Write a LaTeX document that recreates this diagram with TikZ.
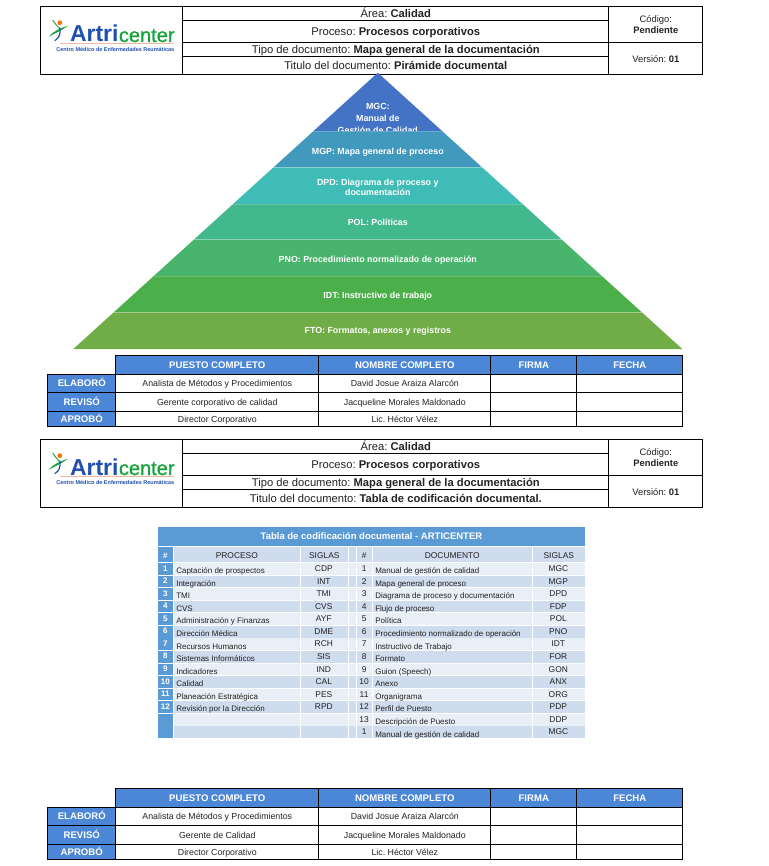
\documentclass[tikz,border=0pt]{standalone}
\usepackage{fontspec}
\setmainfont{Liberation Sans}
\newfontfamily\logofont[FakeBold=1]{Liberation Sans}
\usepackage{tikz}
\usetikzlibrary{positioning,calc}

\definecolor{azulcab}{HTML}{4C86D6}
\definecolor{azultab}{HTML}{5B9BD5}
\definecolor{filaclara}{HTML}{E9EFF7}
\definecolor{filaoscura}{HTML}{CFDCEE}
\definecolor{logoazul}{HTML}{1F4FB0}
\definecolor{logoverde}{HTML}{18A23C}
\definecolor{logosalmon}{HTML}{F0B8A0}
\definecolor{tinta}{HTML}{222222}

\tikzset{
	celda/.style={inner sep=0pt, outer sep=0pt, anchor=north west, text=tinta, text height=.9em, text depth=.2em},
	cab/.style={celda, draw=black, line width=.9pt, font=\fontsize{11.2}{12}\selectfont},
	firma/.style={celda, draw=black, line width=.8pt, font=\fontsize{8.8}{10}\selectfont},
	firmaazul/.style={firma, fill=azulcab, text=white, font=\fontsize{9.6}{12}\selectfont\bfseries},
	banda/.style={draw=white, draw opacity=.2, line width=.5pt},
	nivel/.style={text=white, inner sep=0pt, align=center, font=\fontsize{8.85}{12}\selectfont\bfseries},
	fila0/.style={celda, fill=filaoscura},
	fila1/.style={celda, fill=filaclara},
	titab/.style={celda, fill=azultab, text=white, font=\fontsize{9.5}{12}\selectfont\bfseries},
	numtab/.style={celda, fill=azultab, text=white, font=\fontsize{8}{10}\selectfont\bfseries},
	coltab/.style={celda, fill=filaoscura, font=\fontsize{8.4}{10}\selectfont},
	txtab/.style={inner sep=0pt, text=tinta, anchor=base west, font=\fontsize{8}{10}\selectfont},
	sigtab/.style={inner sep=0pt, text=tinta, anchor=base, font=\fontsize{8.4}{10}\selectfont},
}

% style, name, x1, y1, x2, y2, text
\newcommand{\celda}[7]{\node[#1, minimum width={(#5-#3)*1pt}, minimum height={(#6-#4)*1pt}] (#2) at (#3,#4) {#7};}

\begin{document}
\frenchspacing
\begin{tikzpicture}[x=1pt,y=-1pt]
	\useasboundingbox (.2,.3) rectangle (768.2,866.3);
	
	% the two page headers
	\foreach \t/\titulo/\tn in {0/Pirámide documental/a,433/Tabla de codificación documental./b}
	{
		\begin{scope}[yshift=-\t pt]
			\celda{cab}{logo\tn}{41}{7}{183}{75}{}
			\celda{cab}{area\tn}{183}{7}{609}{21}{Área: \textbf{Calidad}}
			\celda{cab}{proceso\tn}{183}{21}{609}{43}{Proceso: \textbf{Procesos corporativos}}
			\celda{cab}{tipo\tn}{183}{43}{609}{57}{Tipo de documento: \textbf{Mapa general de la documentación}}
			\celda{cab}{doc\tn}{183}{57}{609}{75}{Titulo del documento: \textbf{\titulo}}
			\celda{cab,font=\fontsize{9.4}{11}\selectfont,text height=,text depth=,align=center}{codigo\tn}{609}{7}{703}{43}{Código:\\\textbf{Pendiente}}
			\celda{cab,font=\fontsize{9.4}{11}\selectfont}{version\tn}{609}{43}{703}{75}{Versión: \textbf{01}}
			% logo
			\node[inner sep=0pt, anchor=base west, text=logoazul, font=\fontsize{23}{24}\selectfont\bfseries] (artri\tn) at (70,42.3) {Artri};
			\node[inner sep=0pt, anchor=base west, text=logoverde, font=\fontsize{20}{24}\logofont] (center\tn) at (artri\tn.base east) {center};
			\node[inner sep=0pt, text=logoazul, font=\fontsize{5.5}{6}\selectfont\bfseries] (centro\tn) at (115.5,50) {Centro Médico de Enfermedades Reumáticas};
			\draw[logosalmon, line width=1pt] (60,44) -- (174,44);
			\fill[orange!90!red] (60,23) circle (2.4);
			\fill[logoverde] (49,37) .. controls (54,31) and (60,29) .. (68,26) .. controls (62,31) and (56,33) .. cycle;
			\draw[logoverde, line width=.9pt] (53,20.5) .. controls (56,25) and (59,28) .. (61,30);
			\draw[logoazul, line width=1.2pt] (60,28) .. controls (61,33) and (60,38) .. (55,41);
		\end{scope}
	}
	
	% pyramid, top level first so that the next band cuts its text
	\def \yapex {73}
	\def \xapex {378}
	\def \pend {1.102}
	\fill[color={rgb,255:red,68;green,114;blue,196}] (\xapex,\yapex) -- ({\xapex+\pend*(132-\yapex)},132) -- ({\xapex-\pend*(132-\yapex)},132) -- cycle;
	\node[nivel] (mgc) at (\xapex,118.5) {MGC:\\Manual de\\Gestión de Calidad};
	\foreach \a/\b/\col in {131.5/167.7/4199BE,167.7/204.3/40BCB6,204.3/240/42B88E,240/276.5/48B46C,276.5/312.7/4CB04A,312.7/349.5/70AD47}
	{
		\definecolor{cband}{HTML}{\col}
		\fill[cband] ({\xapex-\pend*(\a-\yapex)},\a) -- ({\xapex+\pend*(\a-\yapex)},\a) -- ({\xapex+\pend*(\b-\yapex)},\b) -- ({\xapex-\pend*(\b-\yapex)},\b) -- cycle;
		\draw[banda] ({\xapex-\pend*(\a-\yapex)},\a) -- ({\xapex+\pend*(\a-\yapex)},\a);
	}
	\node[nivel] (mgp) at (\xapex,152.5) {MGP: Mapa general de proceso};
	\node[nivel] (dpd) at (\xapex,187.5) {DPD: Diagrama de proceso y\\[-1.8pt]documentación};
	\node[nivel] (pol) at (\xapex,223) {POL: Políticas};
	\node[nivel] (pno) at (\xapex,260) {PNO: Procedimiento normalizado de operación};
	\node[nivel] (idt) at (\xapex,297) {IDT: Instructivo de trabajo};
	\node[nivel] (fto) at (\xapex,332) {FTO: Formatos, anexos y registros};
	
	% signature tables
	\foreach \t/\rev/\tn in {0/Gerente corporativo de calidad/a,433/Gerente de Calidad/b}
	{
		\begin{scope}[yshift=-\t pt]
			\foreach \xa/\xb/\tx/\nm in {116/319/PUESTO COMPLETO/puesto,319/491/NOMBRE COMPLETO/nombre,491/577/FIRMA/firm,577/683/FECHA/fecha}
				{\celda{firmaazul}{\nm\tn}{\xa}{355.5}{\xb}{374.5}{\tx}}
			\foreach \ya/\yb/\tx/\pues/\nomb/\nm in {374.5/393/ELABORÓ/Analista de Métodos y Procedimientos/David Josue Araiza Alarcón/ela,393/412/REVISÓ/\rev/Jacqueline Morales Maldonado/rev,412/426.5/APROBÓ/Director Corporativo/Lic. Héctor Vélez/apr}
			{
				\celda{firmaazul}{\nm l\tn}{48}{\ya}{116}{\yb}{\tx}
				\celda{firma}{\nm p\tn}{116}{\ya}{319}{\yb}{\pues}
				\celda{firma}{\nm n\tn}{319}{\ya}{491}{\yb}{\nomb}
				\celda{firma}{\nm f\tn}{491}{\ya}{577}{\yb}{}
				\celda{firma}{\nm d\tn}{577}{\ya}{683}{\yb}{}
			}
		\end{scope}
	}
	
	% coding table
	\def \ytab {563.3}
	\def \hfila {12.57}
	\celda{titab}{titulotab}{158.3}{527.3}{585}{546}{Tabla de codificación documental - ARTICENTER}
	\foreach \xa/\xb/\tx/\nm in {174/300/PROCESO/hproc,301/348/SIGLAS/hsig,349/356/{}/hesp,357/372/\#/hnum,373/532/DOCUMENTO/hdoc,533/585/SIGLAS/hsigb}
		{\celda{coltab}{\nm}{\xa}{547.7}{\xb}{562.2}{\tx}}
	\celda{numtab}{hnuma}{158.3}{547.7}{173}{562.2}{\#}
	\foreach \n in {1,...,14}
	{
		\pgfmathsetmacro\yy{\ytab+\hfila*(\n-1)}
		\pgfmathsetmacro\yb{\yy+11.7}
		\pgfmathtruncatemacro\pari{mod(\n,2)}
		\celda{numtab}{na\n}{158.3}{\yy}{173}{\yb}{}
		\celda{fila\pari}{pa\n}{174}{\yy}{300}{\yb}{}
		\celda{fila\pari}{sa\n}{301}{\yy}{348}{\yb}{}
		\celda{fila\pari}{esp\n}{349}{\yy}{356}{\yb}{}
		\celda{fila\pari}{nb\n}{357}{\yy}{372}{\yb}{}
		\celda{fila\pari}{db\n}{373}{\yy}{532}{\yb}{}
		\celda{fila\pari}{sb\n}{533}{\yy}{585}{\yb}{}
	}
	\foreach \n/\proc/\sig in {1/Captación de prospectos/CDP,2/Integración/INT,3/TMI/TMI,4/CVS/CVS,5/Administración y Finanzas/AYF,6/Dirección Médica/DME,7/Recursos Humanos/RCH,8/Sistemas Informáticos/SIS,9/Indicadores/IND,10/Calidad/CAL,11/Planeación Estratégica/PES,12/Revisión por la Dirección/RPD}
	{
		\pgfmathsetmacro\yy{\ytab+\hfila*(\n-1)}
		\node[inner sep=0pt, text=white, font=\fontsize{8}{10}\selectfont\bfseries, anchor=base] (tna\n) at (165.6,\yy+8) {\n};
		\node[txtab] (tpa\n) at (176.3,\yy+10.7) {\proc};
		\node[sigtab] (tsa\n) at (324,\yy+8.5) {\sig};
	}
	\foreach \n/\num/\docu/\sig in {1/1/Manual de gestión de calidad/MGC,2/2/Mapa general de proceso/MGP,3/3/Diagrama de proceso y documentación/DPD,4/4/Flujo de proceso/FDP,5/5/Política/POL,6/6/Procedimiento normalizado de operación/PNO,7/7/Instructivo de Trabajo/IDT,8/8/Formato/FOR,9/9/Guion (Speech)/GON,10/10/Anexo/ANX,11/11/Organigrama/ORG,12/12/Perfil de Puesto/PDP,13/13/Descripción de Puesto/DDP,14/1/Manual de gestión de calidad/MGC}
	{
		\pgfmathsetmacro\yy{\ytab+\hfila*(\n-1)}
		\node[sigtab] (tnb\n) at (364.3,\yy+8.5) {\num};
		\node[txtab] (tdb\n) at (375.3,\yy+10.7) {\docu};
		\node[sigtab] (tsb\n) at (558.5,\yy+8.5) {\sig};
	}
\end{tikzpicture}
\end{document}
